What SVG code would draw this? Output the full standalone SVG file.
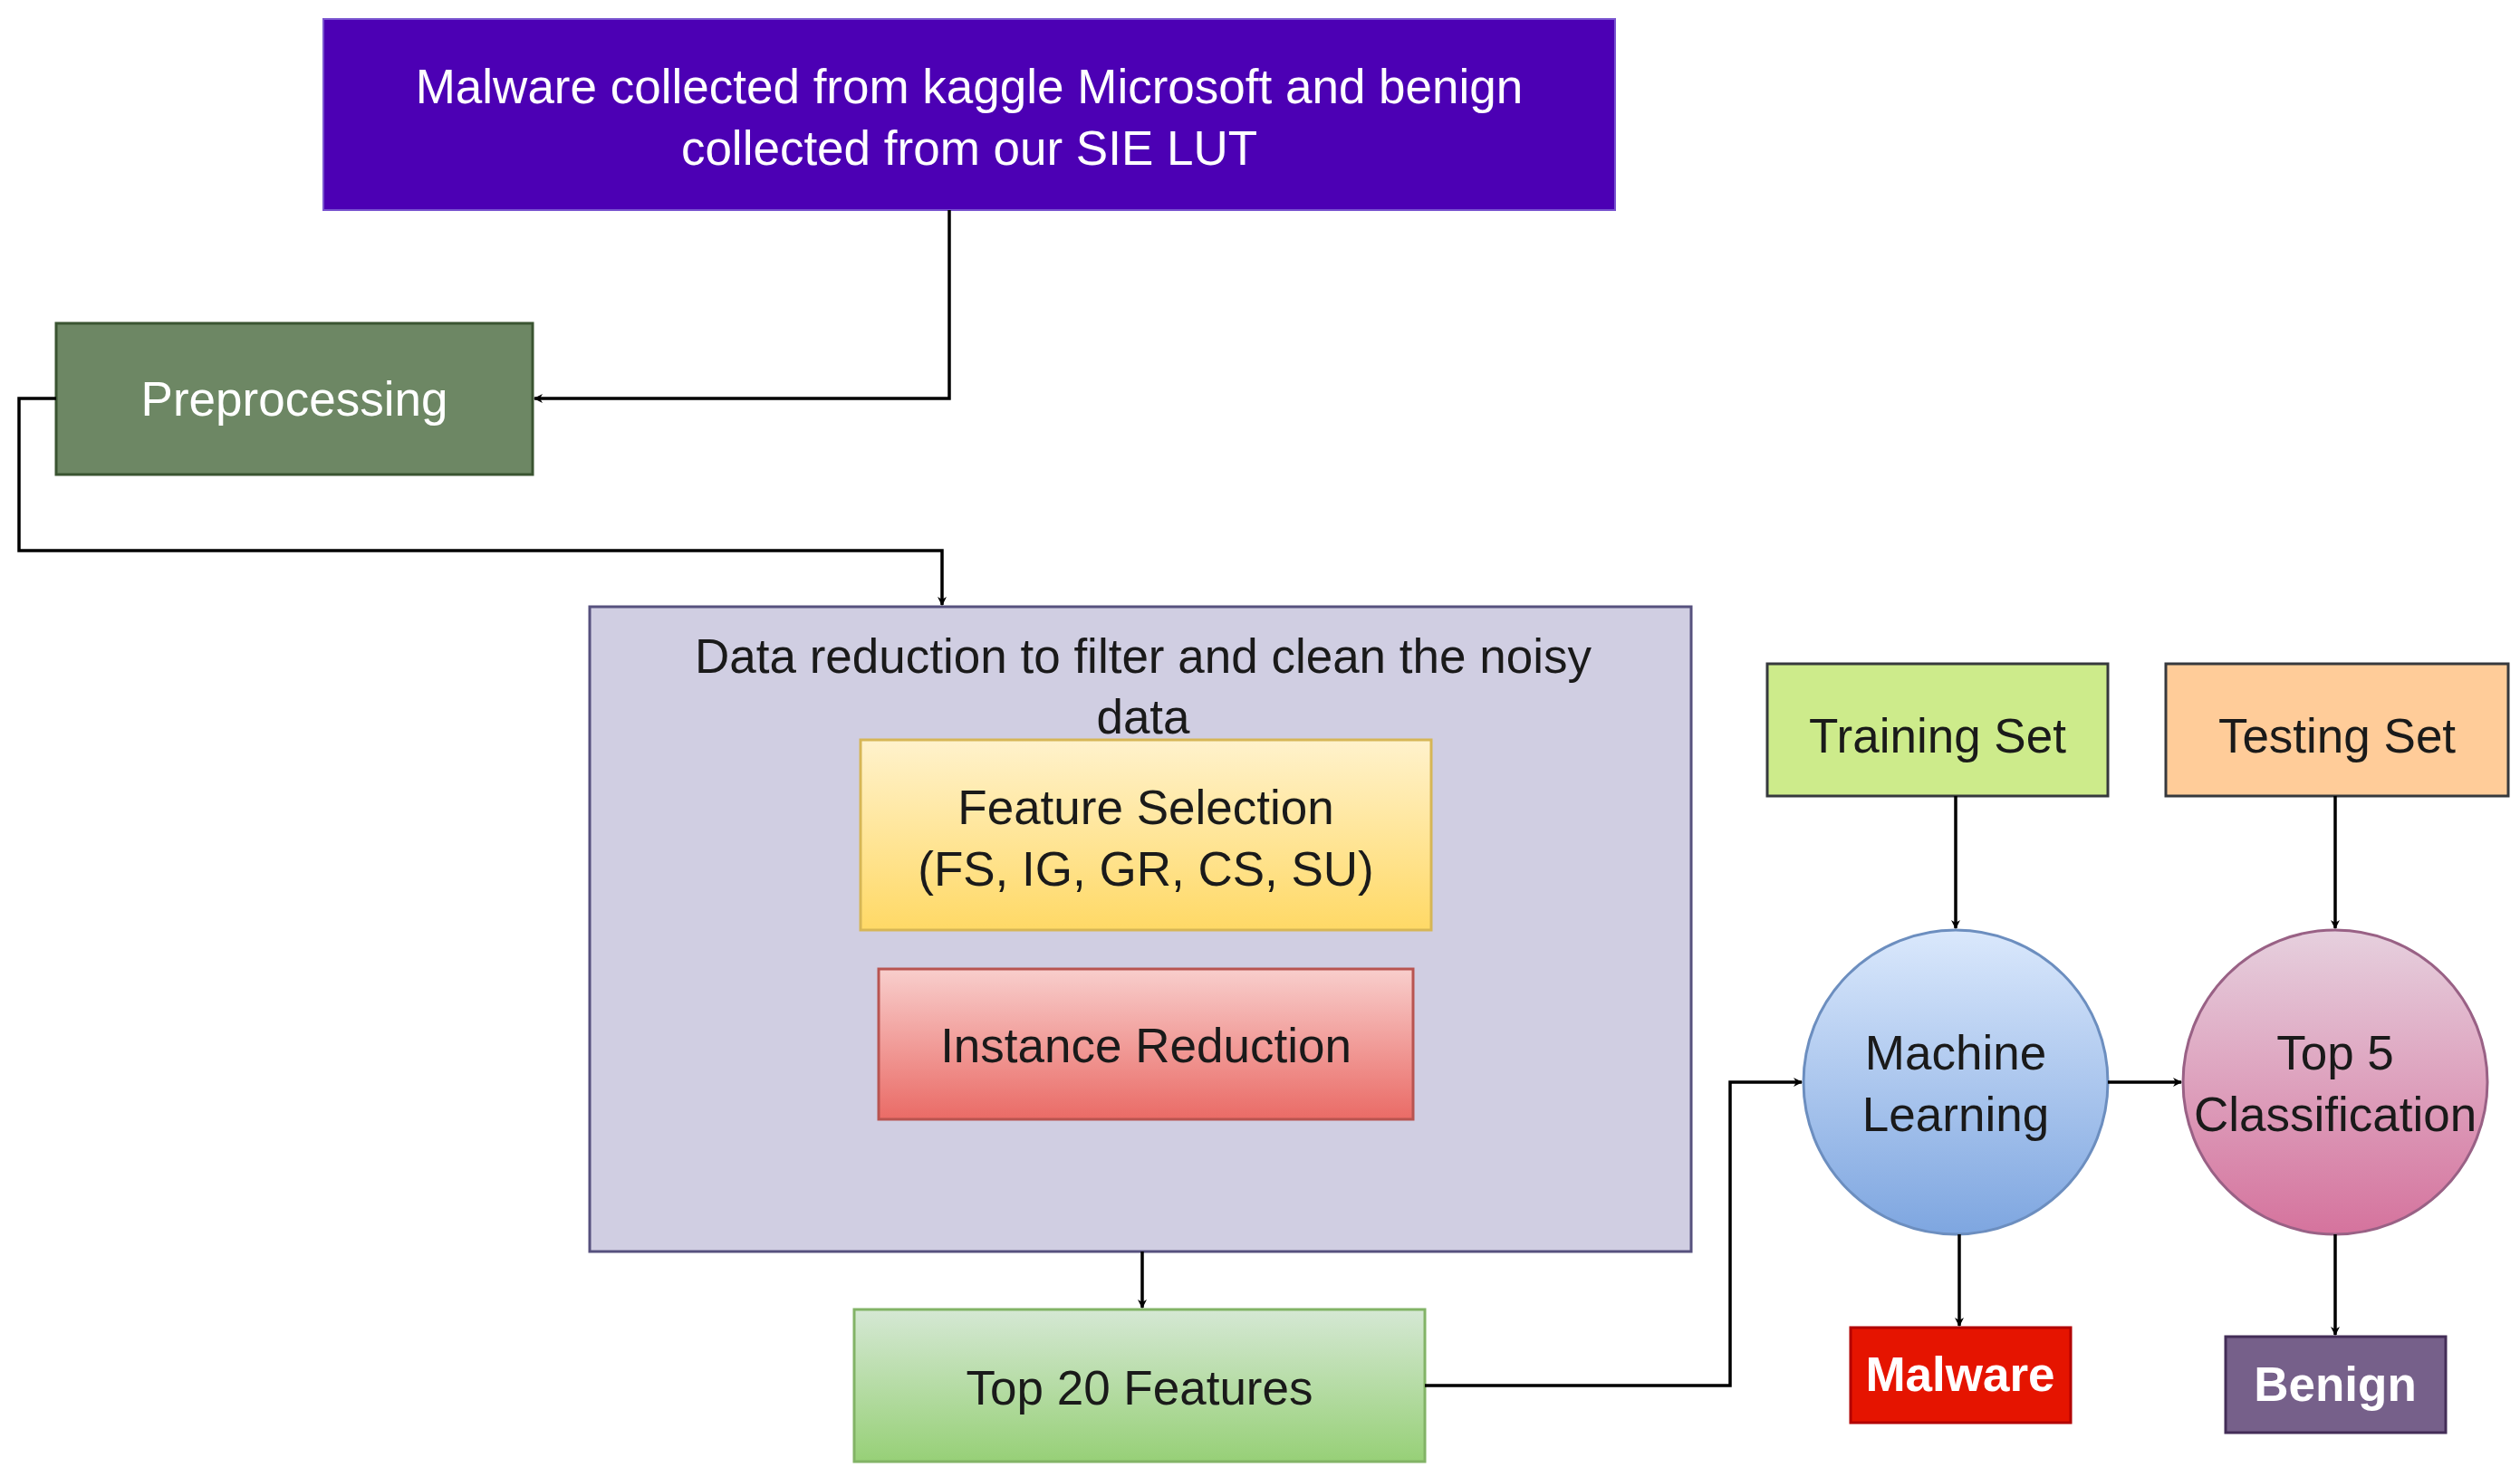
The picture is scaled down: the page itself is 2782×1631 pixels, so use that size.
<svg xmlns="http://www.w3.org/2000/svg" width="2782" height="1631" viewBox="0 0 2782 1631">
<defs>
<linearGradient id="gy" x1="0" y1="0" x2="0" y2="1"><stop offset="0" stop-color="#fff2cc"/><stop offset="1" stop-color="#ffd966"/></linearGradient>
<linearGradient id="gr" x1="0" y1="0" x2="0" y2="1"><stop offset="0" stop-color="#f8cecc"/><stop offset="1" stop-color="#ea6b66"/></linearGradient>
<linearGradient id="gg" x1="0" y1="0" x2="0" y2="1"><stop offset="0" stop-color="#d5e8d4"/><stop offset="1" stop-color="#97d077"/></linearGradient>
<linearGradient id="gb" x1="0" y1="0" x2="0" y2="1"><stop offset="0" stop-color="#dae8fc"/><stop offset="1" stop-color="#7ea6e0"/></linearGradient>
<linearGradient id="gp" x1="0" y1="0" x2="0" y2="1"><stop offset="0" stop-color="#e6d0de"/><stop offset="1" stop-color="#d5739d"/></linearGradient>
<marker id="ar" viewBox="0 0 10 10" refX="9" refY="5" markerWidth="10" markerHeight="10" markerUnits="userSpaceOnUse" orient="auto"><path d="M0,0 L10,5 L0,10 L3,5 Z" fill="#000"/></marker>
</defs>
<style>
text{font-family:"Liberation Sans",Arial,sans-serif;font-size:53px;text-anchor:middle;fill:#1a1a1a}
.w{fill:#fff}
.b{font-weight:bold}
.c{fill:none;stroke:#000;stroke-width:3.5;marker-end:url(#ar)}
</style>
<rect width="2782" height="1631" fill="#fff"/>
<g id="source"><rect x="357" y="21" width="1426" height="211" fill="#4c00b4" stroke="#7a55d0" stroke-width="2"/>
<text class="w" x="1070" y="114">Malware collected from kaggle Microsoft and benign</text>
<text class="w" x="1070" y="182">collected from our SIE LUT</text></g>
<g id="preprocessing"><rect x="62" y="357" width="526" height="167" fill="#6d8764" stroke="#3a5431" stroke-width="3"/>
<text class="w" x="325" y="459">Preprocessing</text></g>
<g id="datareduction"><rect x="651" y="670" width="1216" height="712" fill="#d0cee2" stroke="#56517e" stroke-width="3"/>
<text x="1262" y="743">Data reduction to filter and clean the noisy</text>
<text x="1262" y="810">data</text></g>
<g id="featureselection"><rect x="950" y="817" width="630" height="210" fill="url(#gy)" stroke="#d6b656" stroke-width="3"/>
<text x="1265" y="910">Feature Selection</text>
<text x="1265" y="978">(FS, IG, GR, CS, SU)</text></g>
<g id="instancereduction"><rect x="970" y="1070" width="590" height="166" fill="url(#gr)" stroke="#b85450" stroke-width="3"/>
<text x="1265" y="1173">Instance Reduction</text></g>
<g id="top20"><rect x="943" y="1446" width="630" height="168" fill="url(#gg)" stroke="#82b366" stroke-width="3"/>
<text x="1258" y="1551">Top 20 Features</text></g>
<g id="training"><rect x="1951" y="733" width="376" height="146" fill="#cdeb8b" stroke="#36393d" stroke-width="3"/>
<text x="2139" y="831">Training Set</text></g>
<g id="testing"><rect x="2391" y="733" width="378" height="146" fill="#ffcc99" stroke="#36393d" stroke-width="3"/>
<text x="2580" y="831">Testing Set</text></g>
<g id="ml"><circle cx="2159" cy="1195" r="168" fill="url(#gb)" stroke="#6c8ebf" stroke-width="3"/>
<text x="2159" y="1181">Machine</text><text x="2159" y="1249">Learning</text></g>
<g id="top5"><circle cx="2578" cy="1195" r="168" fill="url(#gp)" stroke="#996185" stroke-width="3"/>
<text x="2578" y="1181">Top 5</text><text x="2578" y="1249">Classification</text></g>
<g id="malware"><rect x="2043" y="1466" width="243" height="105" fill="#e51400" stroke="#b20000" stroke-width="3"/>
<text class="w b" x="2164" y="1536">Malware</text></g>
<g id="benign"><rect x="2457" y="1476" width="243" height="106" fill="#76608a" stroke="#432d57" stroke-width="3"/>
<text class="w b" x="2578" y="1547">Benign</text></g>
<g id="connectors">
<path class="c" d="M1048,232 V440 H590"/>
<path class="c" d="M62,440 H21 V608 H1040 V668"/>
<path class="c" d="M1261,1382 V1444"/>
<path class="c" d="M1573,1530 H1910 V1195 H1989"/>
<path class="c" d="M2159,879 V1025"/>
<path class="c" d="M2578,879 V1025"/>
<path class="c" d="M2327,1195 H2408"/>
<path class="c" d="M2163,1363 V1464"/>
<path class="c" d="M2578,1363 V1474"/>
</g>
</svg>
